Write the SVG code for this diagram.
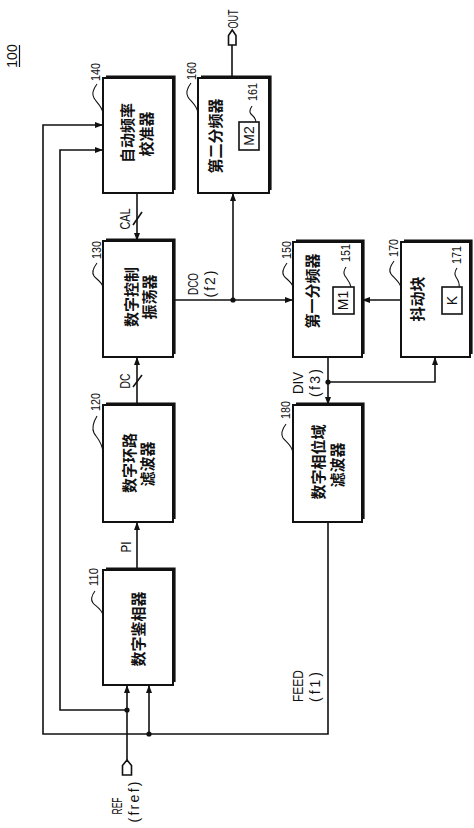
<svg xmlns="http://www.w3.org/2000/svg" width="474" height="828" viewBox="0 0 474 828">
<defs>
<style>
.box{fill:#fff;stroke:#111;stroke-width:2}
.sh{fill:none;stroke:#111;stroke-width:2.8}
.ln{fill:none;stroke:#111;stroke-width:1.6}
.ld{fill:none;stroke:#111;stroke-width:1.1}
.sub{fill:#fff;stroke:#111;stroke-width:1.6}
.cn{font-family:"Noto Sans CJK SC","Noto Sans CJK TC",sans-serif;font-size:15px;font-weight:700;fill:#111;text-anchor:middle}
.lt{font-family:"Liberation Sans",Arial,sans-serif;font-size:14px;fill:#111;text-anchor:middle}
.num{font-family:"Liberation Sans",Arial,sans-serif;font-size:13px;fill:#111;text-anchor:middle}
</style>
<marker id="arr" viewBox="0 0 8 6" refX="8" refY="3" markerWidth="8" markerHeight="6" markerUnits="userSpaceOnUse" orient="auto">
<path d="M0,0 L8,3 L0,6 z" fill="#111"/>
</marker>
</defs>
<rect width="474" height="828" fill="#fff"/>

<g id="label-100">
<text class="lt" transform="translate(17,56) rotate(-90)" font-size="13">100</text>
<line x1="19.5" y1="45" x2="19.5" y2="67" stroke="#111" stroke-width="1.2"/>
</g>

<g id="connectors">
<path class="ln" d="M137,193 V241" marker-end="url(#arr)"/>
<path class="ln" d="M137,405 V357" marker-end="url(#arr)"/>
<path class="ln" d="M137,570 V522" marker-end="url(#arr)"/>
<path class="ln" d="M173,300 H293" marker-end="url(#arr)"/>
<path class="ln" d="M233,300 V193" marker-end="url(#arr)"/>
<path class="ln" d="M232,78 V45"/>
<path class="ln" d="M401,300 H362" marker-end="url(#arr)"/>
<path class="ln" d="M328,357 V405" marker-end="url(#arr)"/>
<path class="ln" d="M328,382 H435 V357" marker-end="url(#arr)"/>
<path class="ln" d="M328,522 V734 H43 V125 H103" marker-end="url(#arr)"/>
<path class="ln" d="M149,734 V685" marker-end="url(#arr)"/>
<path class="ln" d="M127,760 V685" marker-end="url(#arr)"/>
<path class="ln" d="M127,710 H60 V150 H103" marker-end="url(#arr)"/>
<circle cx="233" cy="300" r="2.6" fill="#111"/>
<circle cx="328" cy="382" r="2.6" fill="#111"/>
<circle cx="149" cy="734" r="2.6" fill="#111"/>
<circle cx="127" cy="710" r="2.6" fill="#111"/>
<line class="ln" x1="133" y1="225" x2="142" y2="212"/>
<line class="ln" x1="133" y1="387" x2="142" y2="375"/>
<path d="M228.5,45 H236 V35.5 L232.25,30 L228.5,35.5 Z" fill="#fff" stroke="#111" stroke-width="1.6"/>
<path d="M122.5,775 H131.5 V765.5 L127,760 L122.5,765.5 Z" fill="#fff" stroke="#111" stroke-width="1.6"/>
<text class="lt" transform="translate(130,219) rotate(-90)" textLength="21" lengthAdjust="spacingAndGlyphs">CAL</text>
<text class="lt" transform="translate(130,381) rotate(-90)" textLength="15" lengthAdjust="spacingAndGlyphs">DC</text>
<text class="lt" transform="translate(131,547) rotate(-90)" textLength="11" lengthAdjust="spacingAndGlyphs">PI</text>
<text class="lt" transform="translate(198,284) rotate(-90)" textLength="22" lengthAdjust="spacingAndGlyphs">DCO</text>
<text class="lt" transform="translate(215,284) rotate(-90)" textLength="27" lengthAdjust="spacing">(f2)</text>
<text class="lt" transform="translate(303,383) rotate(-90)" textLength="22" lengthAdjust="spacingAndGlyphs">DIV</text>
<text class="lt" transform="translate(320,383) rotate(-90)" textLength="28" lengthAdjust="spacing">(f3)</text>
<text class="lt" transform="translate(303,686) rotate(-90)" textLength="32" lengthAdjust="spacingAndGlyphs">FEED</text>
<text class="lt" transform="translate(320,687) rotate(-90)" textLength="30" lengthAdjust="spacing">(f1)</text>
<text class="lt" transform="translate(122,806) rotate(-90)" textLength="17" lengthAdjust="spacingAndGlyphs">REF</text>
<text class="lt" transform="translate(139,802) rotate(-90)" textLength="41" lengthAdjust="spacing">(fref)</text>
<text class="lt" transform="translate(238,19) rotate(-90)" font-size="12" textLength="19" lengthAdjust="spacingAndGlyphs">OUT</text>
</g>

<g id="node-140">
<rect class="box" x="103" y="78" width="70" height="115"/>
<path class="sh" d="M106,77 H174.2 V190"/>
<text class="cn" transform="translate(133,133) rotate(-90)">自动频率</text>
<text class="cn" transform="translate(152,134) rotate(-90)">校准器</text>
<text class="num" transform="translate(100,72) rotate(-90)" textLength="18" lengthAdjust="spacingAndGlyphs">140</text>
<path class="ld" d="M97,84 c-3,4 -6,9 -3,14 c2,4 8,8 9,15"/>
</g>

<g id="node-160">
<rect class="box" x="198" y="78" width="71" height="115"/>
<path class="sh" d="M201,77 H270.2 V190"/>
<text class="cn" transform="translate(221,136) rotate(-90)">第二分频器</text>
<rect class="sub" x="239" y="122" width="20" height="28"/>
<text class="lt" transform="translate(253.5,136) rotate(-90)" font-size="12.5">M2</text>
<text class="num" transform="translate(196,71) rotate(-90)" textLength="18" lengthAdjust="spacingAndGlyphs">160</text>
<path class="ld" d="M191,83 c-3,4 -6,9 -3,14 c2,4 9,8 10,16"/>
<text class="num" transform="translate(257,92) rotate(-90)" textLength="18" lengthAdjust="spacingAndGlyphs">161</text>
<path class="ld" d="M252,106 c-2,3 -3,6 -1,8 c2,2 5,4 5,8"/>
</g>

<g id="node-130">
<rect class="box" x="103" y="241" width="70" height="116"/>
<path class="sh" d="M106,240 H174.2 V354"/>
<text class="cn" transform="translate(137,297) rotate(-90)">数字控制</text>
<text class="cn" transform="translate(155,297) rotate(-90)">振荡器</text>
<text class="num" transform="translate(101,250) rotate(-90)" textLength="18" lengthAdjust="spacingAndGlyphs">130</text>
<path class="ld" d="M97,263 c-3,4 -6,9 -3,13 c2,3 8,6 9,11"/>
</g>

<g id="node-150">
<rect class="box" x="293" y="242" width="69" height="115"/>
<path class="sh" d="M296,241 H363.2 V354"/>
<text class="cn" transform="translate(318,291) rotate(-90)">第一分频器</text>
<rect class="sub" x="333" y="287" width="21" height="27"/>
<text class="lt" transform="translate(348,300.5) rotate(-90)" font-size="12.5">M1</text>
<text class="num" transform="translate(291,250) rotate(-90)" textLength="18" lengthAdjust="spacingAndGlyphs">150</text>
<path class="ld" d="M287,263 c-3,4 -6,9 -3,13 c2,3 8,6 9,11"/>
<text class="num" transform="translate(350,253) rotate(-90)" textLength="18" lengthAdjust="spacingAndGlyphs">151</text>
<path class="ld" d="M346,267 c-2,3 -3,6 -1,9 c2,3 5,6 6,11"/>
</g>

<g id="node-170">
<rect class="box" x="401" y="242" width="69" height="115"/>
<path class="sh" d="M404,241 H471.2 V354"/>
<text class="cn" transform="translate(423,299) rotate(-90)">抖动块</text>
<rect class="sub" x="442" y="287" width="20" height="27"/>
<text class="lt" transform="translate(456.5,300.5) rotate(-90)" font-size="12.5">K</text>
<text class="num" transform="translate(398,248) rotate(-90)" textLength="18" lengthAdjust="spacingAndGlyphs">170</text>
<path class="ld" d="M394,261 c-3,4 -6,9 -3,13 c2,3 8,7 10,13"/>
<text class="num" transform="translate(461,255) rotate(-90)" textLength="18" lengthAdjust="spacingAndGlyphs">171</text>
<path class="ld" d="M457,268 c-2,3 -3,6 -1,9 c2,3 4,6 3,10"/>
</g>

<g id="node-120">
<rect class="box" x="103" y="405" width="70" height="117"/>
<path class="sh" d="M106,404 H174.2 V519"/>
<text class="cn" transform="translate(135,463) rotate(-90)">数字环路</text>
<text class="cn" transform="translate(153,464) rotate(-90)">滤波器</text>
<text class="num" transform="translate(100,402) rotate(-90)" textLength="18" lengthAdjust="spacingAndGlyphs">120</text>
<path class="ld" d="M97,416 c-3,5 -6,11 -3,17 c2,4 8,8 9,19"/>
</g>

<g id="node-180">
<rect class="box" x="293" y="405" width="69" height="117"/>
<path class="sh" d="M296,404 H363.2 V519"/>
<text class="cn" transform="translate(324,462) rotate(-90)">数字相位域</text>
<text class="cn" transform="translate(343,465) rotate(-90)">滤波器</text>
<text class="num" transform="translate(290,410) rotate(-90)" textLength="18" lengthAdjust="spacingAndGlyphs">180</text>
<path class="ld" d="M286,424 c-3,4 -6,9 -3,14 c2,3 8,6 10,14"/>
</g>

<g id="node-110">
<rect class="box" x="103" y="570" width="70" height="115"/>
<path class="sh" d="M106,569 H174.2 V682"/>
<text class="cn" transform="translate(144,629) rotate(-90)">数字鉴相器</text>
<text class="num" transform="translate(98,577) rotate(-90)" textLength="18" lengthAdjust="spacingAndGlyphs">110</text>
<path class="ld" d="M95,591 c-3,4 -5,8 -2,12 c2,3 8,5 10,12"/>
</g>
</svg>
